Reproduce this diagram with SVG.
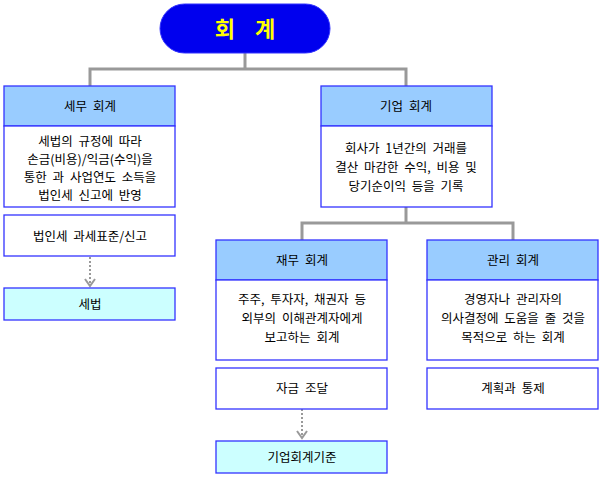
<svg xmlns="http://www.w3.org/2000/svg" width="600" height="478" viewBox="0 0 600 478">
<style>
text{font-family:"Noto Sans CJK KR","Noto Sans",sans-serif;font-size:12.5px;fill:#000;text-anchor:middle;word-spacing:3px}
.b{fill:#fff;stroke:#3333ff;stroke-width:1.3}
.h{fill:#99ccff;stroke:#3333ff;stroke-width:1.3}
.c{fill:#ccffff;stroke:#3333ff;stroke-width:1.3}
.l{fill:none;stroke:#999;stroke-width:3}
.d{fill:none;stroke:#999;stroke-width:2;stroke-dasharray:2 2}
.a{fill:none;stroke:#999;stroke-width:2}
</style>
<rect width="600" height="478" fill="#fff"/>
<g id="connectors">
<path class="l" d="M245 53V69M90 86V69H406V86"/>
<path class="l" d="M406 207V223M302 240V223H513V240"/>
<path class="d" d="M90 257V283"/><path class="a" d="M85 279L90 286L95 279"/>
<path class="d" d="M302 409V435"/><path class="a" d="M297 431L302 438L307 431"/>
</g>
<g id="root"><rect x="160" y="4" width="170" height="49" rx="24.5" fill="#0000ee" stroke="#3333ff"/>
<text x="245" y="37" style="font-size:22px;font-weight:bold;fill:#ffff00;word-spacing:0" xml:space="preserve">회    계</text></g>
<g id="tax"><rect class="h" x="4" y="86" width="171" height="40"/><text x="90" y="111">세무 회계</text>
<rect class="b" x="4" y="126" width="171" height="81"/>
<text x="90" y="146">세법의 규정에 따라</text><text x="90" y="164">손금(비용)/익금(수익)을</text><text x="90" y="182">통한 과 사업연도 소득을</text><text x="90" y="200">법인세 신고에 반영</text></g>
<g id="taxreport"><rect class="b" x="4" y="215" width="171" height="41"/><text x="90" y="241">법인세 과세표준/신고</text></g>
<g id="taxlaw"><rect class="c" x="4" y="288" width="171" height="32"/><text x="90" y="309">세법</text></g>
<g id="corp"><rect class="h" x="321" y="86" width="171" height="40"/><text x="406" y="111">기업 회계</text>
<rect class="b" x="321" y="126" width="171" height="81"/>
<text x="406" y="153">회사가 1년간의 거래를</text><text x="406" y="172">결산 마감한 수익, 비용 및</text><text x="406" y="191">당기순이익 등을 기록</text></g>
<g id="fin"><rect class="h" x="216" y="240" width="171" height="40"/><text x="302" y="265">재무 회계</text>
<rect class="b" x="216" y="280" width="171" height="80"/>
<text x="302" y="304">주주, 투자자, 채권자 등</text><text x="302" y="323">외부의 이해관계자에게</text><text x="302" y="342">보고하는 회계</text></g>
<g id="fund"><rect class="b" x="216" y="368" width="171" height="41"/><text x="302" y="393">자금 조달</text></g>
<g id="std"><rect class="c" x="216" y="441" width="171" height="32"/><text x="302" y="462">기업회계기준</text></g>
<g id="mgmt"><rect class="h" x="427" y="240" width="171" height="40"/><text x="513" y="265">관리 회계</text>
<rect class="b" x="427" y="280" width="171" height="80"/>
<text x="513" y="304">경영자나 관리자의</text><text x="513" y="323">의사결정에 도움을 줄 것을</text><text x="513" y="342">목적으로 하는 회계</text></g>
<g id="plan"><rect class="b" x="427" y="368" width="171" height="41"/><text x="513" y="393">계획과 통제</text></g>
</svg>
